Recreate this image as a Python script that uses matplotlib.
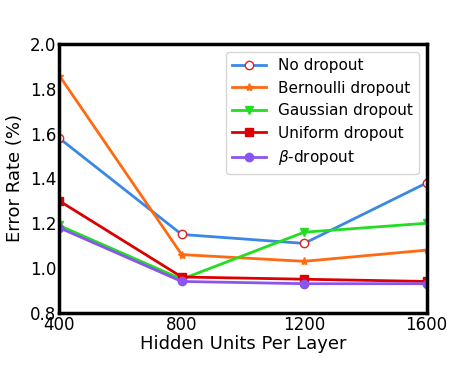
import matplotlib
matplotlib.use("Agg")
import matplotlib.pyplot as plt

# hidden units per layer
units = [400, 800, 1200, 1600]

no_dropout = [1.58, 1.15, 1.11, 1.38]
bernoulli = [1.86, 1.06, 1.03, 1.08]
gaussian = [1.19, 0.95, 1.16, 1.20]
uniform = [1.30, 0.96, 0.95, 0.94]
beta = [1.18, 0.94, 0.93, 0.93]

fig, ax = plt.subplots(figsize=(4.74, 3.68), dpi=100)

ax.plot(units, no_dropout, color="#3a88e6", lw=2, marker="o", ms=6,
        mfc="white", mec="#e02020", label="No dropout")
ax.plot(units, bernoulli, color="#ff6a10", lw=2, marker="*", ms=6,
        label="Bernoulli dropout")
ax.plot(units, gaussian, color="#22dd22", lw=2, marker="v", ms=6,
        label="Gaussian dropout")
ax.plot(units, uniform, color="#dd0000", lw=2, marker="s", ms=6,
        label="Uniform dropout")
ax.plot(units, beta, color="#8a55ee", lw=2, marker="o", ms=6,
        label=r"$\beta$-dropout")

ax.set_xlim(400, 1600)
ax.set_ylim(0.8, 2.0)
ax.set_xticks(units)
ax.set_yticks([0.8, 1.0, 1.2, 1.4, 1.6, 1.8, 2.0])
ax.tick_params(length=0, labelsize=12, pad=2)
for s in ax.spines.values():
    s.set_linewidth(2.5)

ax.set_xlabel("Hidden Units Per Layer", fontsize=13, labelpad=1)
ax.set_ylabel("Error Rate (%)", fontsize=13)
ax.legend(loc="upper right", fontsize=11, handlelength=2.2)

fig.subplots_adjust(left=0.125, right=0.90, top=0.88, bottom=0.15)
fig.savefig("out.png")
